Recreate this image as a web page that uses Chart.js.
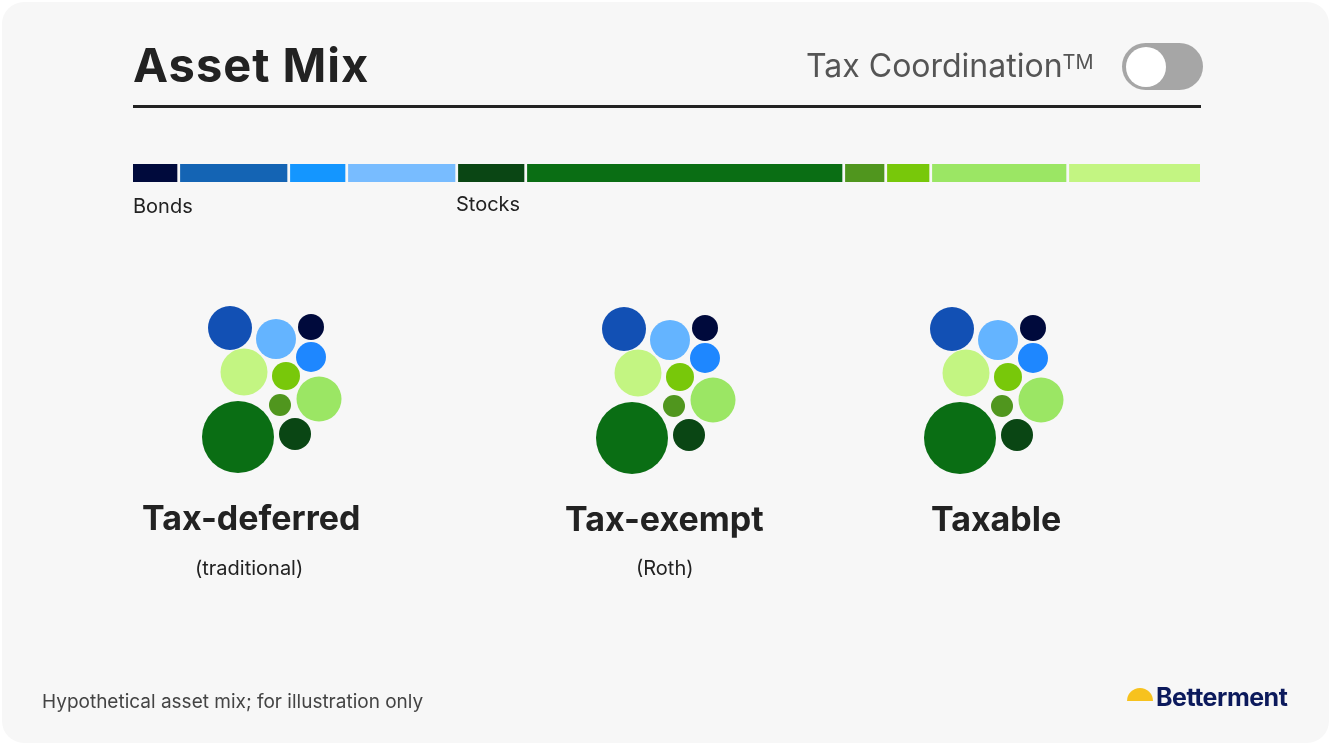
<!DOCTYPE html>
<html><head><meta charset="utf-8">
<script src="https://cdn.jsdelivr.net/npm/chart.js@4"></script>
<style>
html,body{margin:0;padding:0;background:#fff;width:1333px;height:747px;overflow:hidden;font-family:Inter,"Noto Sans",sans-serif;}
#card{position:absolute;left:2px;top:2px;width:1327px;height:741px;background:#f7f7f7;border-radius:22px;}
.t{position:absolute;color:#222;white-space:nowrap;}
#bubbleWrap{position:absolute;left:-36px;top:-36px;width:1405px;height:819px;}
#barWrap{position:absolute;left:133px;top:164px;width:1067px;height:18px;}
</style></head><body>
<div id="card"></div>
<div id="bubbleWrap"><canvas id="bubbles"></canvas></div>
<div id="barWrap"><canvas id="bar"></canvas></div>
<div class="t" style="left:133px;top:36px;font-size:47px;font-weight:700;letter-spacing:1px;">Asset Mix</div>
<div style="position:absolute;left:133px;top:105px;width:1068px;height:3px;background:#222;"></div>
<div class="t" style="left:806px;top:46px;font-size:32px;color:#555;">Tax Coordination<span style="font-size:20px;vertical-align:top;position:relative;top:4px;">TM</span></div>
<div style="position:absolute;left:1122px;top:43px;width:81px;height:47px;border-radius:24px;background:#a6a6a6;"></div>
<div style="position:absolute;left:1126px;top:47px;width:40px;height:40px;border-radius:50%;background:#fff;"></div>
<div class="t" style="left:133px;top:194px;font-size:20px;">Bonds</div>
<div class="t" style="left:456px;top:192px;font-size:20px;">Stocks</div>
<div class="t" style="left:142px;top:497px;font-size:34px;font-weight:700;">Tax-deferred</div>
<div class="t" style="left:195px;top:556px;font-size:20px;">(traditional)</div>
<div class="t" style="left:565px;top:498px;font-size:34px;font-weight:700;">Tax-exempt</div>
<div class="t" style="left:636px;top:556px;font-size:20px;">(Roth)</div>
<div class="t" style="left:931px;top:498px;font-size:34px;font-weight:700;">Taxable</div>
<div class="t" style="left:42px;top:690px;font-size:19px;color:#444;">Hypothetical asset mix; for illustration only</div>
<div style="position:absolute;left:1127px;top:688px;width:26px;height:13px;border-radius:13px 13px 0 0;background:#f7c21e;"></div>
<div class="t" style="left:1156px;top:682px;font-size:25px;font-weight:700;color:#0c1a5c;letter-spacing:-0.5px;">Betterment</div>
<script>
// Allocation bar (segment widths, pixel-proportional)
const barColors = ['#000a3c','#1464b4','#1496ff','#78bcff','#0a4614','#0a6e14','#50961e','#78c80a','#9be664','#c3f582'];
const barValues = [47,110,58,110,69,318,42,45,137,131];
// Bubble cluster (per asset): color, x, y, radius for base cluster
const bubbleColors = ['#1250b4','#64b4ff','#000a3c','#1e87ff','#c3f582','#78c80a','#9be664','#50961e','#0a6e14','#0a4614'];
const bubbleX = [230,276,311,311,244,286,319,280,238,295];
const bubbleY = [328,339,327,357,372,376,399,405,437,434];
const bubbleR = [22,20,13,15,23.5,14,22.5,11,36,16];
const clusterOffsetX = [0,394,722];
const clusterOffsetY = [0,1,1];
const accounts = ['Tax-deferred','Tax-exempt','Taxable'];

new Chart(document.getElementById('bar'),{
  type:'bar',
  data:{labels:['mix'],datasets:barValues.map((v,i)=>({data:[v],backgroundColor:barColors[i],borderColor:'#f7f7f7',
    borderWidth:i<barValues.length-1?{right:3,left:0,top:0,bottom:0}:0,borderSkipped:false,barPercentage:1,categoryPercentage:1}))},
  options:{indexAxis:'y',responsive:true,maintainAspectRatio:false,animation:false,
    layout:{padding:0},plugins:{legend:{display:false},tooltip:{enabled:false}},
    scales:{x:{stacked:true,display:false,min:0,max:1067},y:{stacked:true,display:false}}}
});

const bds=[];
accounts.forEach((a,c)=>{
  bubbleColors.forEach((col,i)=>{
    bds.push({label:a,data:[{x:bubbleX[i]+clusterOffsetX[c],y:bubbleY[i]+clusterOffsetY[c],r:bubbleR[i]}],backgroundColor:col,borderWidth:0});
  });
});
new Chart(document.getElementById('bubbles'),{
  type:'bubble',data:{datasets:bds},
  options:{responsive:true,maintainAspectRatio:false,animation:false,layout:{padding:0},
    plugins:{legend:{display:false},tooltip:{enabled:false}},
    scales:{x:{display:false,min:0,max:1333},y:{display:false,min:0,max:747,reverse:true}}}
});
</script>
</body></html>
